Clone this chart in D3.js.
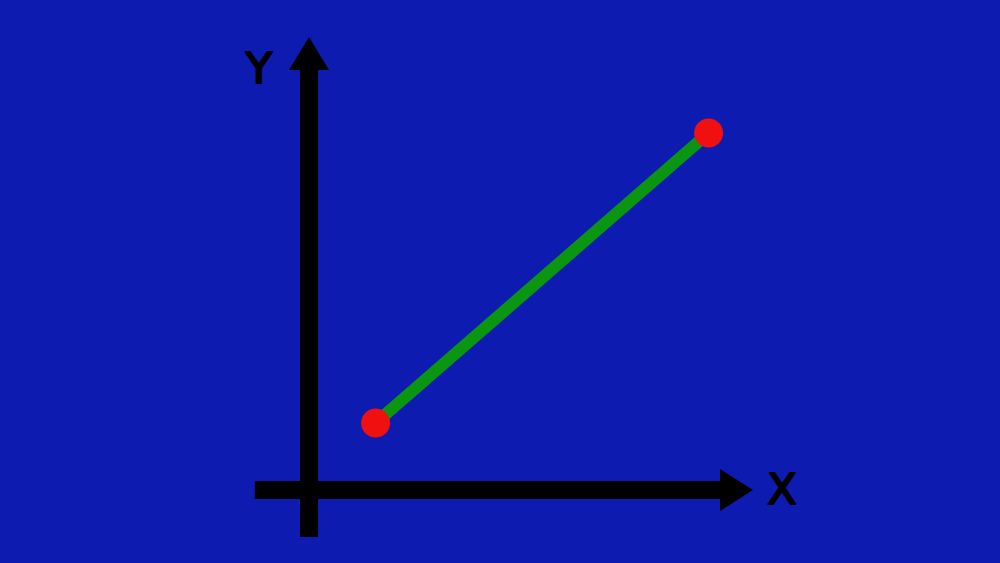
<!DOCTYPE html>
<html>
<head>
<meta charset="utf-8">
<script src="https://cdn.jsdelivr.net/npm/d3@7"></script>
<style>
  html, body { margin: 0; padding: 0; background: #0d1bb0; overflow: hidden; }
  svg { display: block; }
  .axisLabel { font-family: "DejaVu Sans", sans-serif; font-weight: normal; fill: #000; stroke: #000; stroke-width: 2; stroke-linejoin: round; }
</style>
</head>
<body>
<svg></svg>
<script>
// segment end points (data units)
var pointX = [1.5, 9.0];
var pointY = [1.48, 7.88];

// axis extents (data units), arrow points at the max end
var xAxisExtent = [-1.22, 10];
var yAxisExtent = [-1.04, 10];

var axisNames = ["X", "Y"];

var w = 1000,
    h = 563;

var xscale = d3.scaleLinear().domain([0, 10]).range([309, 753]);
var yscale = d3.scaleLinear().domain([0, 10]).range([490, 37]);

var svg = d3.select("svg")
  .attr("width", w)
  .attr("height", h);

svg.append("rect")
  .attr("width", w)
  .attr("height", h)
  .attr("fill", "#0d1bb0");

var shaft = 9,      // half width of axis bar
    headLen = 33,
    headHalf = 21;

// x axis arrow
var x0 = xscale(xAxisExtent[0]), x1 = xscale(xAxisExtent[1]), yo = yscale(0);
svg.append("path")
  .attr("fill", "#000")
  .attr("d", d3.line()([
    [x0, yo - shaft], [x1 - headLen, yo - shaft], [x1 - headLen, yo - headHalf],
    [x1, yo], [x1 - headLen, yo + headHalf], [x1 - headLen, yo + shaft], [x0, yo + shaft]
  ]) + "Z");

// y axis arrow
var y0 = yscale(yAxisExtent[0]), y1 = yscale(yAxisExtent[1]), xo = xscale(0);
svg.append("path")
  .attr("fill", "#000")
  .attr("d", d3.line()([
    [xo - shaft, y0], [xo - shaft, y1 + headLen], [xo - headHalf + 1, y1 + headLen],
    [xo, y1], [xo + headHalf - 1, y1 + headLen], [xo + shaft, y1 + headLen], [xo + shaft, y0]
  ]) + "Z");

// axis labels
svg.append("text")
  .attr("class", "axisLabel")
  .attr("x", x1 + 29)
  .attr("y", yo + 14)
  .attr("text-anchor", "middle")
  .attr("font-size", 43)
  .text(axisNames[0]);

svg.append("text")
  .attr("class", "axisLabel")
  .attr("x", xo - 50)
  .attr("y", y1 + 46)
  .attr("text-anchor", "middle")
  .attr("font-size", 43)
  .text(axisNames[1]);

// segment
var pts = pointX.map(function(d, i) { return [xscale(d), yscale(pointY[i])]; });

svg.append("path")
  .attr("d", d3.line()(pts))
  .attr("stroke", "#0b9612")
  .attr("stroke-width", 12)
  .attr("fill", "none");

svg.selectAll("circle")
  .data(pts)
  .enter()
  .append("circle")
  .attr("cx", function(d) { return d[0]; })
  .attr("cy", function(d) { return d[1]; })
  .attr("r", 14.5)
  .attr("fill", "#f01010");
</script>
</body>
</html>
